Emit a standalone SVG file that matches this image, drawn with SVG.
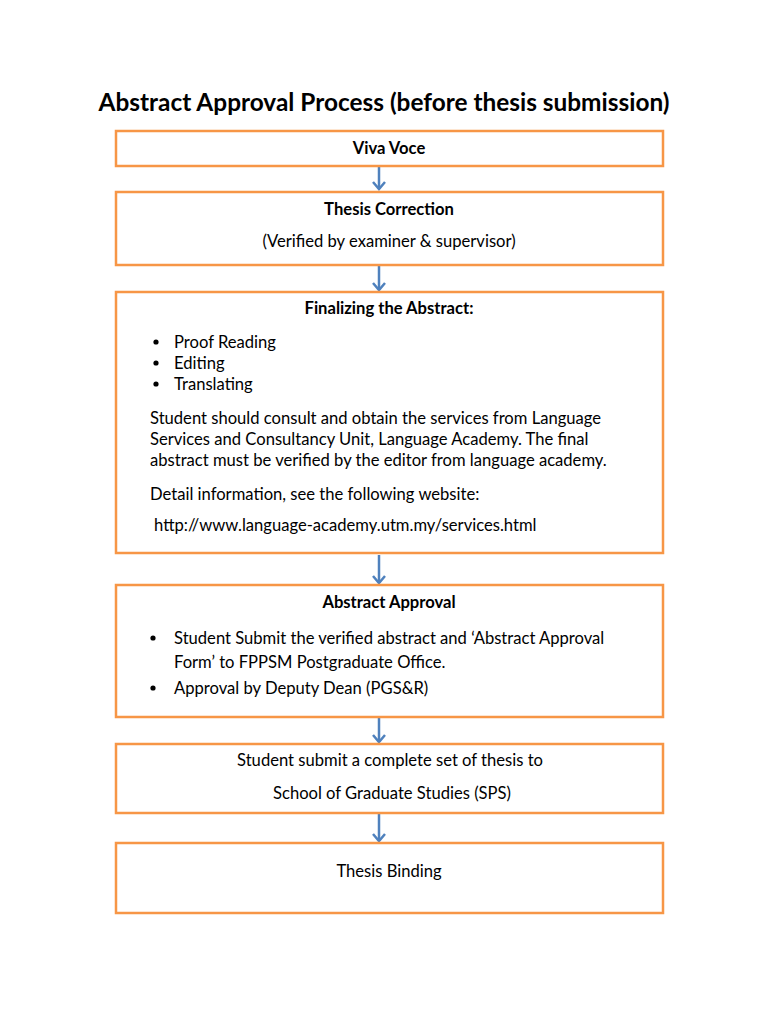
<svg xmlns="http://www.w3.org/2000/svg" width="768" height="1024" viewBox="0 0 768 1024">
<style>
.box{fill:#fff;stroke:#F79646;stroke-width:2.5}
.t{font-family:Lato,"Liberation Sans",sans-serif;font-size:16.6px;fill:#000}
.b{font-weight:bold}
.c{text-anchor:middle}
.arr{stroke:#4F81BD;stroke-width:2.5;fill:none}
</style>
<defs>
<marker id="ah" markerWidth="14" markerHeight="14" refX="9" refY="7" orient="auto" markerUnits="userSpaceOnUse" viewBox="0 0 14 14">
<path d="M2,1 L9,7 L2,13" fill="none" stroke="#4F81BD" stroke-width="2.5"/>
</marker>
</defs>
<rect width="768" height="1024" fill="#fff"/>
<text x="384" y="111" class="t b c" style="font-size:24.4px">Abstract Approval Process (before thesis submission)</text>
<g id="connectors">
<line class="arr" x1="379" y1="167" x2="379" y2="189" marker-end="url(#ah)"/>
<line class="arr" x1="379" y1="266" x2="379" y2="290" marker-end="url(#ah)"/>
<line class="arr" x1="379" y1="555" x2="379" y2="583" marker-end="url(#ah)"/>
<line class="arr" x1="379" y1="718" x2="379" y2="742" marker-end="url(#ah)"/>
<line class="arr" x1="379" y1="814" x2="379" y2="841" marker-end="url(#ah)"/>
</g>
<g id="viva">
<rect class="box" x="116" y="131" width="547" height="35"/>
<text x="389" y="154" class="t b c">Viva Voce</text>
</g>
<g id="correction">
<rect class="box" x="116" y="192" width="547" height="73"/>
<text x="389" y="215" class="t b c">Thesis Correction</text>
<text x="389" y="247" class="t c">(Verified by examiner &amp; supervisor)</text>
</g>
<g id="finalizing">
<rect class="box" x="116" y="292" width="547" height="261"/>
<text x="389" y="314" class="t b c">Finalizing the Abstract:</text>
<circle cx="156" cy="342" r="2.6"/>
<circle cx="156" cy="363" r="2.6"/>
<circle cx="156" cy="384" r="2.6"/>
<text x="174" y="348" class="t">Proof Reading</text>
<text x="174" y="369" class="t">Editing</text>
<text x="174" y="390" class="t">Translating</text>
<text x="150" y="424" class="t">Student should consult and obtain the services from Language</text>
<text x="150" y="445" class="t">Services and Consultancy Unit, Language Academy. The final</text>
<text x="150" y="466" class="t">abstract must be verified by the editor from language academy.</text>
<text x="150" y="500" class="t">Detail information, see the following website:</text>
<text x="154" y="531" class="t">http://www.language-academy.utm.my/services.html</text>
</g>
<g id="approval">
<rect class="box" x="116" y="585" width="547" height="132"/>
<text x="389" y="608" class="t b c">Abstract Approval</text>
<circle cx="153" cy="638" r="2.6"/>
<circle cx="153" cy="688" r="2.6"/>
<text x="174" y="644" class="t">Student Submit the verified abstract and ‘Abstract Approval</text>
<text x="174" y="668" class="t">Form’ to FPPSM Postgraduate Office.</text>
<text x="174" y="694" class="t">Approval by Deputy Dean (PGS&amp;R)</text>
</g>
<g id="submit">
<rect class="box" x="116" y="744" width="547" height="69"/>
<text x="390" y="766" class="t c">Student submit a complete set of thesis to</text>
<text x="392" y="799" class="t c">School of Graduate Studies (SPS)</text>
</g>
<g id="binding">
<rect class="box" x="116" y="843" width="547" height="70"/>
<text x="389" y="877" class="t c">Thesis Binding</text>
</g>
</svg>
